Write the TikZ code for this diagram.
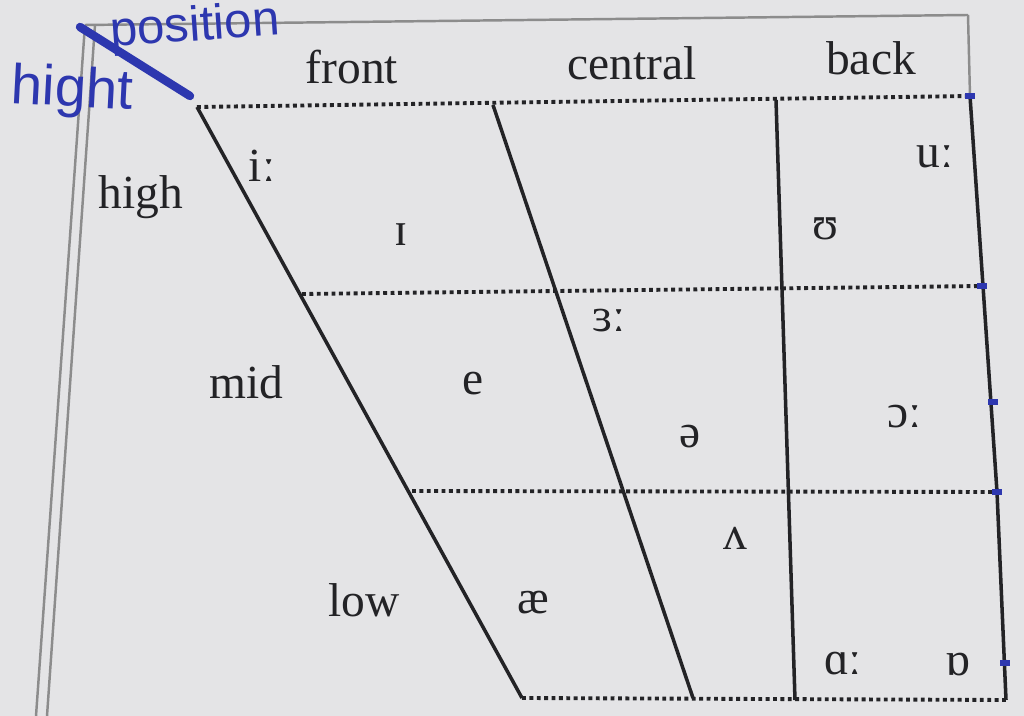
\documentclass[tikz,border=0pt]{standalone}
\usepackage{fontspec}
\setmainfont{Liberation Serif}
\newfontfamily\penfont{Liberation Sans}
\usepackage{xcolor}
\usepackage{tikz}
\definecolor{paper}{RGB}{228,228,230}
\definecolor{ink}{RGB}{35,35,38}
\definecolor{penblue}{RGB}{45,55,175}

\begin{document}
\begin{tikzpicture}[x=0.01cm, y=-0.01cm,
    solidline/.style={line width=1pt, draw=ink},
    dotline/.style={line width=1.1pt, draw=ink, densely dotted},
    frameline/.style={line width=0.7pt, draw=black!45},
    pen/.style={draw=penblue, line width=2.4pt, line cap=round},
    lbl/.style={font=\fontsize{13.5}{16}\selectfont, text=ink, inner sep=0pt}]
    \useasboundingbox[fill=paper] (0,0) rectangle (1024,716);

    % outer frame of the table
    \coordinate (ftl) at (85,25);
    \coordinate (ftr) at (968,15);
    \coordinate (fbl) at (36,716);
    \coordinate (fbl2) at (47,716);
    \coordinate (ftl2) at (95,25);
    \draw[frameline] (ftl) -- (ftr);
    \draw[frameline] (ftl) -- (fbl);
    \draw[frameline] (ftl2) -- (fbl2);

    % corners of the chart
    \coordinate (t1) at (197,107);
    \coordinate (t2) at (493,105);
    \coordinate (t3) at (776,100);
    \coordinate (t4) at (970,96);
    \coordinate (b1) at (522,698);
    \coordinate (b2) at (693,698);
    \coordinate (b3) at (795,700);
    \coordinate (b4) at (1006,700);
    \coordinate (m1) at (302,294);
    \coordinate (m2) at (983,286);
    \coordinate (l1) at (412,491);
    \coordinate (l2) at (997,492);

    \draw[frameline] (ftr) -- (t4);
    \draw[solidline] (t1) -- (b1);
    \draw[solidline] (t2) -- (b2);
    \draw[solidline] (t3) -- (b3);
    \draw[solidline] (t4) -- (m2) -- (l2) -- (b4);
    \draw[dotline] (t1) -- (t4);
    \draw[dotline] (m1) -- (m2);
    \draw[dotline] (l1) -- (l2);
    \draw[dotline] (b1) -- (b4);

    % column and row headings
    \foreach \name/\x/\y in {front/352/67, central/632/63, back/871/58,
        high/141/197, mid/246/382, low/364/600} {
      \node[lbl] (\name) at (\x,\y) {\name};
    }

    % vowels
    \foreach \name/\x/\y/\v in {iilong/262/166/iː, ishort/401/235/ɪ,
        uulong/935/157/uː, ushort/826/229/ʊ, erlong/609/321/ɜː,
        eshort/473/384/e, schwa/690/437/ə, oolong/905/417/ɔː,
        wedge/735/538/ʌ, ash/533/603/æ, aalong/843/664/ɑː, oshort/958/665/ɒ} {
      \node[lbl] (\name) at (\x,\y) {\v};
    }

    % handwritten notes
    \coordinate (s1) at (80,27);
    \coordinate (s2) at (190,96);
    \draw[pen] (s1) -- (s2);
    \node[text=penblue, font=\penfont\fontsize{14}{16}\selectfont, rotate=4, inner sep=0pt] (posnote) at (195,28) {position};
    \node[text=penblue, font=\penfont\fontsize{16}{18}\selectfont, rotate=-3, inner sep=0pt] (hightnote) at (72,92) {hight};

    % pen marks on the right edge
    \foreach \x/\y in {970/96, 982/286, 993/402, 997/492, 1005/663} {
      \fill[penblue] (\x-5,\y-3) rectangle (\x+5,\y+3);
    }
\end{tikzpicture}
\end{document}
